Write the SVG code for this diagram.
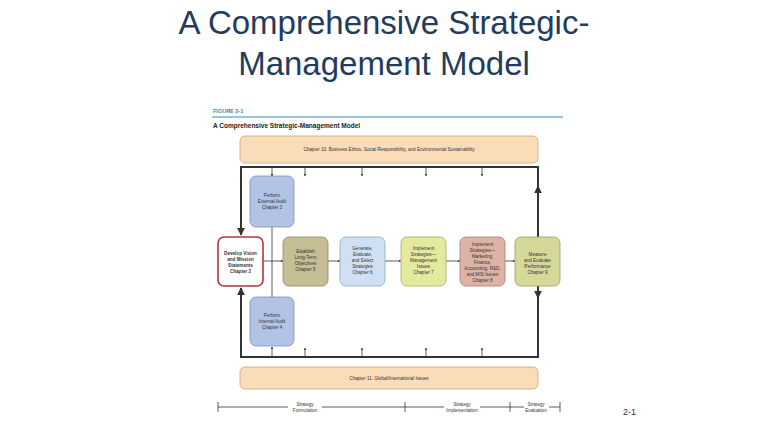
<svg xmlns="http://www.w3.org/2000/svg" width="768" height="433" viewBox="0 0 768 433">
<style>
.t{font-family:"Liberation Sans",Arial,sans-serif;fill:#333;text-anchor:middle}
.s{font-size:4.6px}
.n{stroke-width:0.8}
.ln{stroke:#333;fill:none}
</style>
<defs>
<marker id="a" viewBox="0 0 10 10" refX="9" refY="5" markerWidth="4" markerHeight="4" orient="auto"><path d="M0,0L10,5L0,10z" fill="#333"/></marker>
<marker id="b" viewBox="0 0 10 10" refX="9" refY="5" markerWidth="3" markerHeight="3" orient="auto"><path d="M0,0L10,5L0,10z" fill="#333"/></marker>
</defs>
<rect width="768" height="433" fill="#fff"/>
<text class="t" x="384" y="34" font-size="33" style="fill:#243c5c">A Comprehensive Strategic-</text>
<text class="t" x="384" y="75" font-size="33" style="fill:#243c5c">Management Model</text>
<text x="213" y="113" font-family="Liberation Sans,sans-serif" font-size="5.5" font-weight="bold" fill="#2a8ac8">FIGURE 2-1</text>
<line x1="212" y1="117" x2="563" y2="117" stroke="#2a8ac8" stroke-width="1.2"/>
<text x="213" y="128" font-family="Liberation Sans,sans-serif" font-size="6.5" font-weight="bold" fill="#222">A Comprehensive Strategic-Management Model</text>
<g id="connectors">
<path class="ln" stroke-width="2" d="M538,237V167H241V235" marker-end="url(#a)"/>
<path class="ln" stroke-width="2" d="M538,286V357H241V288" marker-end="url(#a)"/>
<path class="ln" stroke-width="2" d="M538,196V186" marker-end="url(#a)"/>
<path class="ln" stroke-width="2" d="M538,288V298" marker-end="url(#a)"/>
<line class="ln" x1="272" y1="227" x2="272" y2="297" stroke-width="0.8"/>
<g stroke-width="0.8" class="ln">
<path d="M272,167V176" marker-end="url(#b)"/><path d="M305,167V176" marker-end="url(#b)"/><path d="M362,167V176" marker-end="url(#b)"/><path d="M426,167V176" marker-end="url(#b)"/><path d="M482,167V176" marker-end="url(#b)"/>
<path d="M272,357V347" marker-end="url(#b)"/><path d="M305,357V348" marker-end="url(#b)"/><path d="M362,357V348" marker-end="url(#b)"/><path d="M426,357V348" marker-end="url(#b)"/><path d="M482,357V348" marker-end="url(#b)"/>
<path d="M263,261H283" marker-end="url(#b)"/><path d="M328,261H340" marker-end="url(#b)"/><path d="M385,261H401" marker-end="url(#b)"/><path d="M446,261H460" marker-end="url(#b)"/><path d="M505,261H515" marker-end="url(#b)"/>
</g>
</g>
<g id="top"><rect x="240" y="136" width="298" height="27" rx="5" fill="#fbdcb9" stroke="#c9a57e" class="n"/><text class="t s" x="389" y="151">Chapter 10: Business Ethics, Social Responsibility, and Environmental Sustainability</text></g>
<g id="bottom"><rect x="240" y="367" width="298" height="22" rx="5" fill="#fbdcb9" stroke="#c9a57e" class="n"/><text class="t s" x="389" y="380">Chapter 11:  Global/International Issues</text></g>
<g id="ext"><rect x="250" y="176" width="44" height="51" rx="6" fill="#b3c3e6" stroke="#7b8fb8" class="n"/><text class="t s"><tspan x="272" y="197">Perform</tspan><tspan x="272" y="203">External Audit</tspan><tspan x="272" y="209">Chapter 3</tspan></text></g>
<g id="int"><rect x="250" y="297" width="44" height="49" rx="6" fill="#b3c3e6" stroke="#7b8fb8" class="n"/><text class="t s"><tspan x="272" y="317">Perform</tspan><tspan x="272" y="323">Internal Audit</tspan><tspan x="272" y="329">Chapter 4</tspan></text></g>
<g id="vision"><rect x="218" y="237" width="45" height="49" rx="6" fill="#fff" stroke="#b8323d" stroke-width="1.6"/><text class="t s" font-weight="bold"><tspan x="240.5" y="255">Develop Vision</tspan><tspan x="240.5" y="261">and Mission</tspan><tspan x="240.5" y="267">Statements</tspan><tspan x="240.5" y="273">Chapter 2</tspan></text></g>
<g id="obj"><rect x="283" y="237" width="45" height="49" rx="6" fill="#c5be95" stroke="#8e8760" class="n"/><text class="t s"><tspan x="305.5" y="253">Establish</tspan><tspan x="305.5" y="259">Long-Term</tspan><tspan x="305.5" y="265">Objectives</tspan><tspan x="305.5" y="271">Chapter 5</tspan></text></g>
<g id="gen"><rect x="340" y="237" width="45" height="49" rx="6" fill="#cfe0f2" stroke="#8ea6c2" class="n"/><text class="t s"><tspan x="362.5" y="250">Generate,</tspan><tspan x="362.5" y="256">Evaluate,</tspan><tspan x="362.5" y="262">and Select</tspan><tspan x="362.5" y="268">Strategies</tspan><tspan x="362.5" y="274">Chapter 6</tspan></text></g>
<g id="imp1"><rect x="401" y="237" width="45" height="49" rx="6" fill="#e3ea9e" stroke="#a3aa64" class="n"/><text class="t s"><tspan x="423.5" y="250">Implement</tspan><tspan x="423.5" y="256">Strategies—</tspan><tspan x="423.5" y="262">Management</tspan><tspan x="423.5" y="268">Issues</tspan><tspan x="423.5" y="274">Chapter 7</tspan></text></g>
<g id="imp2"><rect x="460" y="237" width="45" height="49" rx="6" fill="#ddb3a6" stroke="#a37a6e" class="n"/><text class="t s"><tspan x="482.5" y="246">Implement</tspan><tspan x="482.5" y="252">Strategies—</tspan><tspan x="482.5" y="258">Marketing,</tspan><tspan x="482.5" y="264">Finance,</tspan><tspan x="482.5" y="270">Accounting, R&amp;D,</tspan><tspan x="482.5" y="276">and MIS Issues</tspan><tspan x="482.5" y="282">Chapter 8</tspan></text></g>
<g id="meas"><rect x="515" y="237" width="45" height="49" rx="6" fill="#d6d89a" stroke="#9a9c60" class="n"/><text class="t s"><tspan x="537.5" y="256">Measure</tspan><tspan x="537.5" y="262">and Evaluate</tspan><tspan x="537.5" y="268">Performance</tspan><tspan x="537.5" y="274">Chapter 9</tspan></text></g>
<g id="timeline" stroke="#333" stroke-width="0.8">
<path d="M218,402V412M405,402V412M510,402V412M560,402V412"/>
<path d="M218,407H288M322,407H405M405,407H444M480,407H510M510,407H524M549,407H560"/>
</g>
<text class="t s"><tspan x="305" y="406">Strategy</tspan><tspan x="305" y="412">Formulation</tspan><tspan x="462" y="406">Strategy</tspan><tspan x="462" y="412">Implementation</tspan><tspan x="536" y="406">Strategy</tspan><tspan x="536" y="412">Evaluation</tspan></text>
<text x="623" y="415" font-family="Liberation Sans,sans-serif" font-size="9" fill="#333">2-1</text>
</svg>
